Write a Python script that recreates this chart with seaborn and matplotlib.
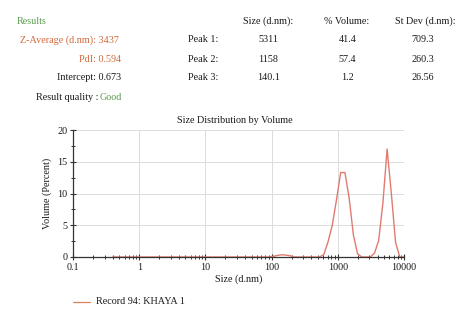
import matplotlib
matplotlib.use("Agg")
import matplotlib.pyplot as plt
from matplotlib.ticker import LogLocator, MultipleLocator, FixedLocator, FixedFormatter
import seaborn as sns
import pandas as pd

# Size classes (d.nm) and volume distribution (%)
sizes = [0.4, 0.4632, 0.5365, 0.6213, 0.7195, 0.8332, 0.9649, 1.117, 1.294, 1.499,
         1.736, 2.010, 2.328, 2.696, 3.122, 3.615, 4.187, 4.849, 5.615, 6.503,
         7.531, 8.721, 10.10, 11.70, 13.54, 15.69, 18.17, 21.04, 24.36, 28.21,
         32.67, 37.84, 43.82, 50.75, 58.77, 68.06, 78.82, 91.28, 105.7, 122.4,
         141.8, 164.2, 190.1, 220.2, 255.0, 295.3, 342.0, 396.1, 458.7, 531.2,
         615.1, 712.4, 825.0, 955.4, 1106, 1281, 1484, 1718, 1990, 2305,
         2669, 3091, 3580, 4145, 4801, 5560, 6439, 7456, 8635, 10000]
volume = [0, 0, 0, 0, 0, 0, 0, 0, 0, 0,
          0, 0, 0, 0, 0, 0, 0, 0, 0, 0,
          0, 0, 0, 0, 0, 0, 0, 0, 0, 0,
          0, 0, 0, 0, 0, 0, 0, 0, 0.1, 0.25,
          0.35, 0.3, 0.2, 0, 0, 0, 0, 0, 0, 0,
          0.4, 2.4, 5.0, 9.0, 13.3, 13.3, 9.3, 3.5, 0.5, 0,
          0, 0, 0.6, 2.6, 8.5, 17.0, 10.0, 2.3, 0, 0]

record_name = "Record 94: KHAYA 1"
x_ticks = [0.1, 1, 10, 100, 1000, 10000]
x_tick_labels = ["0.1", "1", "10", "100", "1000", "10000"]
y_ticks = [0, 5, 10, 15, 20]

# Summary table
peak_names = ["Peak 1:", "Peak 2:", "Peak 3:"]
peak_size = ["5311", "1158", "140.1"]
peak_volume = ["41.4", "57.4", "1.2"]
peak_stdev = ["709.3", "260.3", "26.56"]

df = pd.DataFrame({"size": sizes, "volume": volume, "record": record_name})

sns.set_theme(style="whitegrid")
plt.rcParams["font.family"] = ["Liberation Serif", "DejaVu Serif"]

ORANGE = "#d2693c"
GREEN = "#5b9b4e"
LINE = "#e07a70"
TXT = "#1a1a1a"
FS = 7.3

fig = plt.figure(figsize=(4.74, 3.22), dpi=100)
ax = fig.add_axes([73 / 474, 1 - 257 / 322, (404 - 73) / 474, (257 - 130) / 322])

sns.lineplot(data=df, x="size", y="volume", ax=ax, color=LINE, linewidth=1.0,
             legend=False, estimator=None)

ax.set_xscale("log")
ax.set_xlim(0.1, 10000)
ax.set_ylim(0, 20)
ax.xaxis.set_major_locator(FixedLocator(x_ticks))
ax.xaxis.set_major_formatter(FixedFormatter(x_tick_labels))
ax.xaxis.set_minor_locator(LogLocator(base=10, subs=range(2, 10)))
ax.yaxis.set_major_locator(FixedLocator(y_ticks))
ax.yaxis.set_minor_locator(MultipleLocator(2.5))

ax.grid(True, which="major", color="#dcdcdc", linewidth=0.7)
ax.grid(False, which="minor")
for side in ["top", "right"]:
    ax.spines[side].set_visible(False)
for side in ["left", "bottom"]:
    ax.spines[side].set_color("#333333")
    ax.spines[side].set_linewidth(0.9)

ax.tick_params(axis="both", which="major", direction="inout", length=4, width=0.8,
               colors="#333333", labelsize=FS, labelcolor=TXT, pad=2,
               bottom=True, left=True)
ax.tick_params(axis="both", which="minor", direction="inout", length=3, width=0.7,
               colors="#333333", bottom=True, left=True)

ax.set_xlabel("Size (d.nm)", fontsize=FS, color=TXT, labelpad=2)
ax.set_ylabel("Volume (Percent)", fontsize=FS, color=TXT, labelpad=4)
ax.set_title("Size Distribution by Volume", fontsize=FS, color=TXT, pad=5, x=0.49)

# Legend entry below the axes
fig.add_artist(plt.Line2D([73 / 474, 90 / 474], [1 - 302 / 322] * 2,
                          color="#d9825b", linewidth=0.9))
fig.text(96 / 474, 1 - 302 / 322, record_name, fontsize=FS, color=TXT,
         ha="left", va="center")

def put(x, y, s, color=TXT, ha="left"):
    fig.text(x / 474, 1 - y / 322, s, fontsize=FS, color=color, ha=ha, va="center")

# Results block
put(16.5, 21, "Results", GREEN)
put(119, 40, "Z-Average (d.nm): 3437", ORANGE, ha="right")
put(121, 59, "PdI: 0.594", ORANGE, ha="right")
put(121, 78, "Intercept: 0.673", ha="right")
t = fig.text(97 / 474, 1 - 97 / 322, "Good", fontsize=FS, color=GREEN,
             ha="right", va="center")
fig.text(101 / 474, 1 - 97 / 322, "Result quality : ", fontsize=FS, color=TXT,
         ha="right", va="center")
t.set_x(122.5 / 474)
t.set_ha("right")

# Peak table
put(268.5, 21, "Size (d.nm):", ha="center")
put(347, 21, "% Volume:", ha="center")
put(425, 21, "St Dev (d.nm):", ha="center")
for i, yy in enumerate([40, 59, 78]):
    put(188, yy, peak_names[i])
    put(268.5, yy, peak_size[i], ha="center")
    put(347.5, yy, peak_volume[i], ha="center")
    put(423, yy, peak_stdev[i], ha="center")

fig.savefig("out.png", dpi=100)
